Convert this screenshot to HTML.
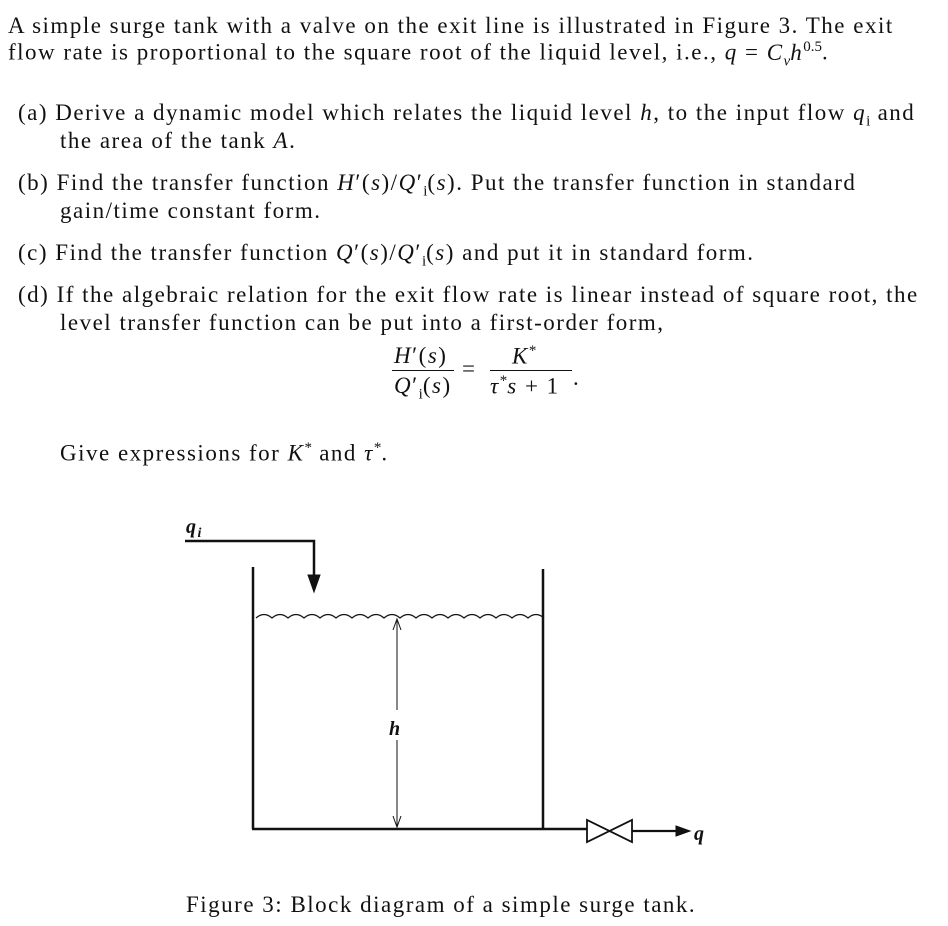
<!DOCTYPE html>
<html><head><meta charset="utf-8"><style>
body{margin:0;width:948px;height:926px;background:#fff;position:relative;overflow:hidden;font-family:"Liberation Serif",serif;font-size:23px;letter-spacing:1.5px;color:#111}
.t{position:absolute;white-space:nowrap;line-height:1}
i{font-style:italic}
sub,sup{font-size:15px;letter-spacing:0}
</style></head><body>
<div class="t" style="left:8px;top:14px">A simple surge tank with a valve on the exit line is illustrated in Figure 3. The exit</div>
<div class="t" style="left:8px;top:40px">flow rate is proportional to the square root of the liquid level, i.e., <i>q</i> = <i>C<sub>v</sub>h</i><sup>0.5</sup>.</div>
<div class="t" style="left:18px;top:101px">(a) Derive a dynamic model which relates the liquid level <i>h</i>, to the input flow <i>q</i><sub>i</sub> and</div>
<div class="t" style="left:60px;top:129px">the area of the tank <i>A</i>.</div>
<div class="t" style="left:18px;top:171px">(b) Find the transfer function <i>H</i>′(<i>s</i>)/<i>Q</i>′<sub>i</sub>(<i>s</i>). Put the transfer function in standard</div>
<div class="t" style="left:60px;top:199px">gain/time constant form.</div>
<div class="t" style="left:18px;top:241px">(c) Find the transfer function <i>Q</i>′(<i>s</i>)/<i>Q</i>′<sub>i</sub>(<i>s</i>) and put it in standard form.</div>
<div class="t" style="left:18px;top:283px">(d) If the algebraic relation for the exit flow rate is linear instead of square root, the</div>
<div class="t" style="left:60px;top:311px">level transfer function can be put into a first-order form,</div>
<div class="t" style="left:394px;top:344px"><i>H</i>′(<i>s</i>)</div>
<div style="position:absolute;left:392px;top:370px;width:62px;height:1px;background:#111"></div>
<div class="t" style="left:394px;top:374px"><i>Q</i>′<sub>i</sub>(<i>s</i>)</div>
<div class="t" style="left:462px;top:357px">=</div>
<div class="t" style="left:512px;top:344px"><i>K</i><sup>*</sup></div>
<div style="position:absolute;left:490px;top:370px;width:82px;height:1px;background:#111"></div>
<div class="t" style="left:490px;top:374px"><i>τ</i><sup>*</sup><i>s</i> + 1</div>
<div class="t" style="left:573px;top:366px">.</div>
<div class="t" style="left:60px;top:441px">Give expressions for <i>K</i><sup>*</sup> and <i>τ</i><sup>*</sup>.</div>
<svg style="position:absolute;left:0;top:0" width="948" height="926">
<g stroke="#111" fill="none">
<polyline points="185,541 314,541 314,585" stroke-width="2.5"/>
<polygon points="308,575 320,575 314,592" fill="#111" stroke-width="1"/>
<line x1="253" y1="567" x2="253" y2="829" stroke-width="2.5"/>
<line x1="543" y1="569" x2="543" y2="829" stroke-width="2.5"/>
<line x1="252" y1="829" x2="587" y2="829" stroke-width="2.5"/>
<path d="M256,618 q8,-7 16,0 q8,-7 16,0 q8,-7 16,0 q8,-7 16,0 q8,-7 16,0 q8,-7 16,0 q8,-7 16,0 q8,-7 16,0 q8,-7 16,0 q8,-7 16,0 q8,-7 16,0 q8,-7 16,0 q8,-7 16,0 q8,-7 16,0 q8,-7 16,0 q8,-7 16,0 q8,-7 16,0 q8,-7 16,0" stroke-width="1.2"/>
<line x1="397" y1="621" x2="397" y2="710" stroke-width="1"/>
<line x1="397" y1="740" x2="397" y2="826" stroke-width="1"/>
<polyline points="393,630 397,619 401,630" stroke-width="1"/>
<polyline points="393,816 397,827 401,816" stroke-width="1"/>
<polygon points="587,820 587,842 632,820 632,842" stroke-width="1.8"/>
<line x1="632" y1="831" x2="682" y2="831" stroke-width="2.2"/>
<polygon points="676,826 690,831 676,836" fill="#111" stroke-width="1"/>
</g>
<text x="186" y="533" font-family="Liberation Serif" font-style="italic" font-weight="bold" font-size="20" fill="#111">q<tspan font-size="14" dy="4">i</tspan></text>
<text x="389" y="735" font-family="Liberation Serif" font-style="italic" font-weight="bold" font-size="20" fill="#111">h</text>
<text x="694" y="840" font-family="Liberation Serif" font-style="italic" font-weight="bold" font-size="20" fill="#111">q</text>
</svg>
<div class="t" style="left:186px;top:893px">Figure 3: Block diagram of a simple surge tank.</div>
</body></html>
